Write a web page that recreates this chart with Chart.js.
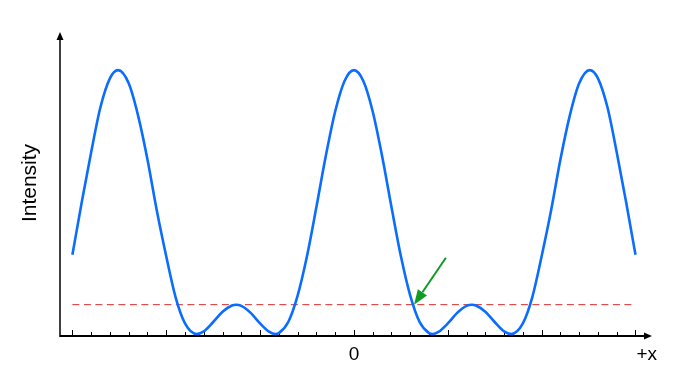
<!DOCTYPE html>
<html>
<head>
<meta charset="utf-8">
<script src="https://cdn.jsdelivr.net/npm/chart.js@4/dist/chart.umd.min.js"></script>
<style>
  html, body { margin: 0; padding: 0; background: #ffffff; }
  #wrap { position: relative; width: 680px; height: 381px; }
</style>
</head>
<body>
<div id="wrap"><canvas id="c"></canvas></div>
<script>
// ---- data ----
// position along the screen, in tick units (0 = centre, ±15 = ends of the curve)
const positions = [
  -15, -14.5, -14, -13.5, -13, -12.566, -12, -11.5, -11, -10.5, -10, -9.5, -9, -8.378, -8, -7.5, -7, -6.5, -6.283,
  -6, -5.5, -5, -4.5, -4.189, -4, -3.5, -3, -2.5, -2, -1.5, -1, -0.5,
  0,
  0.5, 1, 1.5, 2, 2.5, 3, 3.5, 4, 4.189, 4.5, 5, 5.5, 6,
  6.283, 6.5, 7, 7.5, 8, 8.378, 9, 9.5, 10, 10.5, 11, 11.5, 12, 12.566, 13, 13.5, 14, 14.5, 15
];
// intensity (principal maximum = 9, secondary maximum = 1)
const intensity = [
  2.70, 4.50, 6.20, 7.75, 8.72, 9.00, 8.55, 7.45, 5.95, 4.20, 2.65, 1.25, 0.36, 0.00, 0.09, 0.41, 0.76, 0.97, 1.00,
  0.96, 0.72, 0.36, 0.07, 0.00, 0.03, 0.41, 1.31, 2.66, 4.33, 6.07, 7.59, 8.63,
  9.00,
  8.63, 7.59, 6.07, 4.33, 2.66, 1.31, 0.41, 0.03, 0.00, 0.07, 0.36, 0.72, 0.96,
  1.00, 0.97, 0.76, 0.41, 0.09, 0.00, 0.36, 1.25, 2.65, 4.20, 5.95, 7.45, 8.55, 9.00, 8.72, 7.75, 6.20, 4.50, 2.70
];
// reference (dashed) level = height of the secondary maxima
const thresholdX = [-15, 15];
const thresholdY = [1, 1];
// arrow annotation: [tailX, tailY, tipX, tipY]
const arrowPts = [4.9, 2.6, 3.2, 1.0];
// axis tick marks (every unit, long every 5) and tick labels
const tickValues = [-15,-14,-13,-12,-11,-10,-9,-8,-7,-6,-5,-4,-3,-2,-1,0,1,2,3,4,5,6,7,8,9,10,11,12,13,14,15];
const tickLabelValues = [0, 15];
const tickLabels = ['0', '+x'];
const yTitle = 'Intensity';

const FONT = '"Liberation Sans", Arial, Helvetica, sans-serif';

const axesPlugin = {
  id: 'axesPlugin',
  beforeDatasetsDraw(chart) {
    const ctx = chart.ctx;
    const xs = chart.scales.x, ys = chart.scales.y;
    const a = chart.chartArea;
    const y0 = a.bottom;
    const x0 = a.left;
    ctx.save();
    ctx.strokeStyle = '#000';
    ctx.fillStyle = '#000';
    // y axis
    ctx.lineWidth = 1.5;
    ctx.beginPath(); ctx.moveTo(x0, y0 + 1); ctx.lineTo(x0, a.top + 6); ctx.stroke();
    ctx.beginPath(); ctx.moveTo(x0, a.top); ctx.lineTo(x0 - 3.5, a.top + 8); ctx.lineTo(x0 + 3.5, a.top + 8); ctx.closePath(); ctx.fill();
    // x axis
    ctx.lineWidth = 2;
    ctx.beginPath(); ctx.moveTo(x0, y0); ctx.lineTo(a.right - 6, y0); ctx.stroke();
    ctx.beginPath(); ctx.moveTo(a.right, y0); ctx.lineTo(a.right - 8, y0 - 3.5); ctx.lineTo(a.right - 8, y0 + 3.5); ctx.closePath(); ctx.fill();
    // tick marks (pointing up)
    ctx.lineWidth = 1;
    tickValues.forEach(v => {
      const px = Math.round(xs.getPixelForValue(v)) + 0.5;
      const len = (v % 5 === 0) ? 6 : 4;
      ctx.beginPath(); ctx.moveTo(px, y0); ctx.lineTo(px, y0 - len); ctx.stroke();
    });
    // tick labels
    ctx.font = '19px ' + FONT;
    ctx.textBaseline = 'middle';
    tickLabelValues.forEach((v, i) => {
      const px = xs.getPixelForValue(v);
      if (tickLabels[i] === '0') { ctx.textAlign = 'center'; ctx.fillText(tickLabels[i], px, y0 + 19); }
      else { ctx.textAlign = 'left'; ctx.fillText(tickLabels[i], px + 1, y0 + 19); }
    });
    // y title
    ctx.save();
    ctx.translate(30, (a.top + a.bottom) / 2 - 1);
    ctx.rotate(-Math.PI / 2);
    ctx.textAlign = 'center';
    ctx.textBaseline = 'middle';
    ctx.font = '21px ' + FONT;
    ctx.fillText(yTitle, 0, 0);
    ctx.restore();
    ctx.restore();
  },
  afterDatasetsDraw(chart) {
    const ctx = chart.ctx;
    const xs = chart.scales.x, ys = chart.scales.y;
    const tx = xs.getPixelForValue(arrowPts[0]), ty = ys.getPixelForValue(arrowPts[1]);
    const hx = xs.getPixelForValue(arrowPts[2]), hy = ys.getPixelForValue(arrowPts[3]);
    const ang = Math.atan2(hy - ty, hx - tx);
    const L = 15, W = 5.5;
    ctx.save();
    ctx.strokeStyle = '#129a24';
    ctx.fillStyle = '#129a24';
    ctx.lineWidth = 2;
    const bx = hx - L * Math.cos(ang), by = hy - L * Math.sin(ang);
    ctx.beginPath(); ctx.moveTo(tx, ty); ctx.lineTo(bx, by); ctx.stroke();
    ctx.beginPath();
    ctx.moveTo(hx, hy);
    ctx.lineTo(bx + W * Math.sin(ang), by - W * Math.cos(ang));
    ctx.lineTo(bx - W * Math.sin(ang), by + W * Math.cos(ang));
    ctx.closePath(); ctx.fill();
    ctx.restore();
  }
};

new Chart(document.getElementById('c'), {
  type: 'line',
  data: {
    datasets: [
      {
        data: positions.map((x, i) => ({ x: x, y: intensity[i] })),
        borderColor: '#0b6dff',
        borderWidth: 2.6,
        pointRadius: 0,
        cubicInterpolationMode: 'monotone',
        fill: false,
        order: 1
      },
      {
        data: thresholdX.map((x, i) => ({ x: x, y: thresholdY[i] })),
        borderColor: '#d42a2a',
        borderWidth: 1,
        borderDash: [7, 4.5],
        pointRadius: 0,
        fill: false,
        order: 2
      }
    ]
  },
  options: {
    responsive: true,
    maintainAspectRatio: false,
    animation: false,
    layout: { padding: { left: 60, right: 28, top: 32, bottom: 45 } },
    plugins: { legend: { display: false }, tooltip: { enabled: false } },
    scales: {
      x: { type: 'linear', min: -15.66, max: 15.88, display: false },
      y: { type: 'linear', min: -0.068, max: 10.3, display: false }
    }
  },
  plugins: [axesPlugin]
});
</script>
</body>
</html>
